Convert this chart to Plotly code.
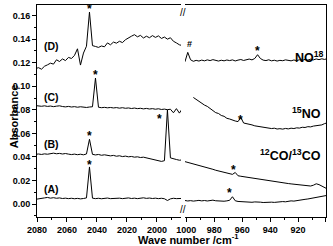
import plotly.graph_objects as go

# ---------------- data ----------------
wn_left = [2081, 2079, 2077, 2075, 2073, 2071, 2069, 2067, 2065, 2063,
           2061, 2059, 2057, 2055, 2053, 2051, 2049, 2047, 2045, 2043,
           2041, 2039, 2037, 2035, 2033, 2031, 2029, 2027, 2025, 2023,
           2021, 2019, 2017, 2015, 2013, 2011, 2009, 2007, 2005, 2003,
           2001, 1999, 1997, 1995, 1993, 1991, 1989, 1987, 1985, 1983]
wn_right = [1001, 999, 997, 995, 993, 991, 989, 987, 985, 983,
            981, 979, 977, 975, 973, 971, 969, 967, 965, 963,
            961, 959, 957, 955, 953, 951, 949, 947, 945, 943,
            941, 939, 937, 935, 933, 931, 929, 927, 925, 923,
            921, 919, 917, 915, 913, 911, 909, 907, 905, 903,
            901, 899]

A_left = [0.0040, 0.0042, 0.0045, 0.0052, 0.0056, 0.0050, 0.0054, 0.0049, 0.0052, 0.0047,
          0.0050, 0.0046, 0.0049, 0.0045, 0.0048, 0.0044, 0.0047, 0.0052, 0.0315, 0.0050,
          0.0046, 0.0049, 0.0045, 0.0048, 0.0051, 0.0046, 0.0049, 0.0047, 0.0050, 0.0046,
          0.0049, 0.0052, 0.0047, 0.0050, 0.0046, 0.0049, 0.0053, 0.0048, 0.0051, 0.0047,
          0.0050, 0.0046, 0.0049, 0.0045, 0.0030, 0.0044, 0.0049, 0.0046, 0.0050, 0.0048]
A_right = [0.0030, 0.0026, 0.0029, 0.0025, 0.0028, 0.0031, 0.0027, 0.0030, 0.0026, 0.0029,
           0.0033, 0.0028, 0.0025, 0.0028, 0.0024, 0.0027, 0.0032, 0.0062, 0.0028, 0.0022,
           0.0020, 0.0018, 0.0021, 0.0017, 0.0015, 0.0018, 0.0014, 0.0016, 0.0013, 0.0015,
           0.0012, 0.0016, 0.0014, 0.0018, 0.0016, 0.0021, 0.0019, 0.0024, 0.0027, 0.0025,
           0.0030, 0.0033, 0.0036, 0.0040, 0.0043, 0.0047, 0.0052, 0.0055, 0.0060, 0.0064,
           0.0070, 0.0074]

B_left = [0.0422, 0.0425, 0.0421, 0.0426, 0.0423, 0.0428, 0.0432, 0.0427, 0.0430, 0.0425,
          0.0429, 0.0424, 0.0420, 0.0424, 0.0419, 0.0423, 0.0418, 0.0425, 0.0550, 0.0422,
          0.0417, 0.0421, 0.0414, 0.0418, 0.0412, 0.0409, 0.0413, 0.0406, 0.0410, 0.0403,
          0.0407, 0.0401, 0.0404, 0.0398, 0.0401, 0.0395, 0.0398, 0.0392, 0.0388, 0.0383,
          0.0379, 0.0372, 0.0362, 0.0368, 0.0800, 0.0392, 0.0382, 0.0378, 0.0372, 0.0375]
B_right = [0.0360, 0.0354, 0.0346, 0.0341, 0.0333, 0.0327, 0.0320, 0.0314, 0.0307, 0.0300,
           0.0295, 0.0287, 0.0282, 0.0274, 0.0269, 0.0262, 0.0257, 0.0252, 0.0268, 0.0240,
           0.0236, 0.0232, 0.0228, 0.0225, 0.0220, 0.0217, 0.0212, 0.0208, 0.0205, 0.0200,
           0.0197, 0.0193, 0.0190, 0.0186, 0.0183, 0.0180, 0.0177, 0.0174, 0.0171, 0.0168,
           0.0166, 0.0163, 0.0161, 0.0159, 0.0156, 0.0153, 0.0160, 0.0172, 0.0165, 0.0150,
           0.0138, 0.0128]

C_left = [0.0836, 0.0833, 0.0830, 0.0834, 0.0829, 0.0832, 0.0827, 0.0831, 0.0834, 0.0828,
          0.0825, 0.0829, 0.0824, 0.0827, 0.0822, 0.0826, 0.0823, 0.0820, 0.0824, 0.0826,
          0.1070, 0.0822, 0.0818, 0.0821, 0.0817, 0.0820, 0.0816, 0.0819, 0.0814, 0.0818,
          0.0813, 0.0816, 0.0811, 0.0815, 0.0810, 0.0813, 0.0808, 0.0812, 0.0807, 0.0810,
          0.0805, 0.0809, 0.0803, 0.0806, 0.0801, 0.0805, 0.0775, 0.0810, 0.0772, 0.0812]
C_right = [None, None, None, 0.0905, 0.0888, 0.0872, 0.0861, 0.0840, 0.0829, 0.0811,
           0.0798, 0.0776, 0.0769, 0.0752, 0.0745, 0.0728, 0.0722, 0.0712, 0.0705, 0.0700,
           0.0735, 0.0688, 0.0684, 0.0675, 0.0672, 0.0664, 0.0661, 0.0653, 0.0655, 0.0646,
           0.0649, 0.0641, 0.0644, 0.0637, 0.0640, 0.0636, 0.0642, 0.0638, 0.0644, 0.0641,
           0.0647, 0.0645, 0.0652, 0.0650, 0.0657, 0.0655, 0.0662, 0.0666, 0.0664, 0.0672,
           0.0683, 0.0690]

D_left = [0.1150, 0.1158, 0.1145, 0.1170, 0.1182, 0.1196, 0.1188, 0.1225, 0.1210, 0.1232,
          0.1218, 0.1245, 0.1236, 0.1262, 0.1318, 0.1180, 0.1282, 0.1340, 0.1630, 0.1345,
          0.1338, 0.1330, 0.1342, 0.1335, 0.1368, 0.1352, 0.1375, 0.1366, 0.1382, 0.1371,
          0.1395, 0.1412, 0.1425, 0.1438, 0.1420, 0.1432, 0.1410, 0.1425, 0.1412, 0.1430,
          0.1415, 0.1428, 0.1406, 0.1418, 0.1400, 0.1412, 0.1382, 0.1368, 0.1352, 0.1345]
D_right = [0.1208, 0.1288, 0.1225, 0.1212, 0.1220, 0.1214, 0.1222, 0.1216, 0.1224, 0.1218,
           0.1226, 0.1219, 0.1214, 0.1221, 0.1216, 0.1223, 0.1218, 0.1224, 0.1215, 0.1222,
           0.1227, 0.1219, 0.1225, 0.1231, 0.1224, 0.1236, 0.1268, 0.1236, 0.1222, 0.1218,
           0.1225, 0.1216, 0.1221, 0.1214, 0.1220, 0.1217, 0.1224, 0.1219, 0.1216, 0.1223,
           0.1218, 0.1225, 0.1220, 0.1228, 0.1222, 0.1230, 0.1224, 0.1232, 0.1226, 0.1233,
           0.1228, 0.1235]

x_left_ticks = [2080, 2060, 2040, 2020, 2000]
x_right_ticks = [1000, 980, 960, 940, 920, 900]
y_ticks = [0.00, 0.02, 0.04, 0.06, 0.08, 0.10, 0.12, 0.14, 0.16]

# peak markers (*) : left panel and right panel
stars_left_x = [2045, 2041, 2045, 1998, 2045]
stars_left_y = [0.1685, 0.1123, 0.0604, 0.0749, 0.0357]
stars_right_x = [949, 961, 966, 969]
stars_right_y = [0.1328, 0.0740, 0.0315, 0.0119]

series_labels = ["(D)", "(C)", "(B)", "(A)"]
series_label_y = [0.1345, 0.0910, 0.0510, 0.0128]

# ---------------- figure ----------------
FONT = "Liberation Sans, Arial, sans-serif"
fig = go.Figure()
line = dict(color="black", width=1)
for ys in [A_left, B_left, C_left, D_left]:
    fig.add_trace(go.Scatter(x=wn_left, y=ys, mode="lines", line=line,
                             xaxis="x", yaxis="y", showlegend=False,
                             hoverinfo="skip", connectgaps=False))
for ys in [A_right, B_right, C_right, D_right]:
    fig.add_trace(go.Scatter(x=wn_right, y=ys, mode="lines", line=line,
                             xaxis="x2", yaxis="y2", showlegend=False,
                             hoverinfo="skip", connectgaps=False))

tickfont = dict(family=FONT, size=9, color="black", weight="bold")
common = dict(showline=True, linecolor="black", linewidth=1, ticks="outside",
              ticklen=4, tickwidth=1, tickcolor="black", showgrid=False,
              zeroline=False, tickfont=tickfont, automargin=False)

fig.update_layout(
    width=333, height=246,
    margin=dict(l=37, r=7, t=5, b=29),
    paper_bgcolor="white", plot_bgcolor="white",
    xaxis=dict(domain=[0, 0.498], range=[2080, 1984], anchor="y",
               tickvals=x_left_ticks, mirror=True,
               minor=dict(dtick=10, tick0=2000, ticklen=2, ticks="outside",
                          tickcolor="black"),
               **common),
    xaxis2=dict(domain=[0.512, 1], range=[1001, 900], anchor="y2",
                tickvals=x_right_ticks, mirror=True,
                minor=dict(dtick=10, tick0=900, ticklen=2, ticks="outside",
                           tickcolor="black"),
                **common),
    yaxis=dict(domain=[0, 1], range=[-0.011, 0.169], anchor="x",
               tickvals=y_ticks, tickformat=".2f",
               minor=dict(dtick=0.01, tick0=0, ticklen=2, ticks="outside",
                          tickcolor="black"),
               **common),
    yaxis2=dict(domain=[0, 1], matches="y", anchor="x2", side="right",
                showline=True, linecolor="black", linewidth=1, ticks="",
                showticklabels=False, showgrid=False, zeroline=False,
                automargin=False),
)

ann = []
starfont = dict(family=FONT, size=12, color="black", weight="bold")
for x, y in zip(stars_left_x, stars_left_y):
    ann.append(dict(x=x, y=y, xref="x", yref="y", text="*", showarrow=False,
                    font=starfont, yshift=-3))
for x, y in zip(stars_right_x, stars_right_y):
    ann.append(dict(x=x, y=y, xref="x2", yref="y2", text="*", showarrow=False,
                    font=starfont, yshift=-3))
ann.append(dict(x=997.8, y=0.1357, xref="x2", yref="y2", text="#", showarrow=False,
                font=dict(family=FONT, size=9, color="black", weight="bold")))
for t, y in zip(series_labels, series_label_y):
    ann.append(dict(x=2070, y=y, xref="x", yref="y", text=t, showarrow=False,
                    font=dict(family=FONT, size=10.5, color="black", weight="bold")))

labfont = dict(family=FONT, size=12.5, color="black", weight="bold")
ann.append(dict(x=1.0, y=0.80, xref="paper", yref="paper", xanchor="right",
                text="NO<sup>18</sup>", showarrow=False, font=labfont))
ann.append(dict(x=0.99, y=0.49, xref="paper", yref="paper", xanchor="right",
                text="<sup>15</sup>NO", showarrow=False, font=labfont))
ann.append(dict(x=0.99, y=0.245, xref="paper", yref="paper", xanchor="right",
                text="<sup>12</sup>CO/<sup>13</sup>CO", showarrow=False, font=labfont))

# axis titles
ann.append(dict(x=0.523, y=-0.102, xref="paper", yref="paper", yanchor="middle",
                text="Wave number /cm<sup>-1</sup>", showarrow=False,
                font=dict(family=FONT, size=11, color="black", weight="bold")))
ann.append(dict(x=-0.107, y=0.476, xref="paper", yref="paper", textangle=-90,
                text="Absorbance", showarrow=False,
                font=dict(family=FONT, size=11, color="black", weight="bold")))

# axis break marks
brk = dict(family=FONT, size=10, color="black")
ann.append(dict(x=0.505, y=0, xref="paper", yref="paper", text="//",
                showarrow=False, font=brk))
ann.append(dict(x=0.505, y=1, xref="paper", yref="paper", text="//",
                showarrow=False, font=brk))

fig.update_layout(annotations=ann)
fig.write_html("out.html", config={"displayModeBar": False},
               post_script="document.body.style.margin='0px';document.body.style.padding='0px';")
